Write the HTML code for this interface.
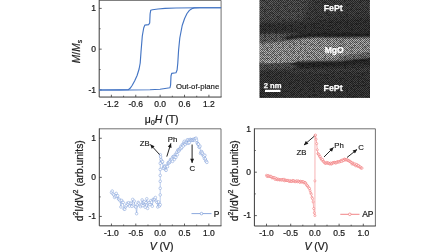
<!DOCTYPE html><html><head><meta charset="utf-8"><title>Figure</title>
<style>html,body{margin:0;padding:0;background:#fff;}body{width:448px;height:252px;overflow:hidden;}svg{display:block;}text{font-family:"Liberation Sans", Arial, sans-serif;fill:#1a1a1a;stroke:#1a1a1a;stroke-width:0.22px;}text.w{fill:#fff;stroke:#fff;stroke-width:0.25px;font-weight:bold;}</style></head><body>
<svg width="448" height="252" viewBox="0 0 448 252">
<defs>
<filter id="noise" x="0" y="0" width="100%" height="100%" color-interpolation-filters="sRGB">
<feTurbulence type="fractalNoise" baseFrequency="0.45 0.55" numOctaves="2" seed="11" result="n"/>
<feColorMatrix in="n" type="matrix" values="0 0 0 0 0  0 0 0 0 0  0 0 0 0 0  3 0 0 0 -1.35"/>
</filter>
<filter id="b1" x="-20%" y="-20%" width="140%" height="140%"><feGaussianBlur stdDeviation="0.8"/></filter>
<filter id="b2" x="-20%" y="-50%" width="140%" height="200%"><feGaussianBlur stdDeviation="2"/></filter>
<pattern id="lat" width="2" height="2" patternUnits="userSpaceOnUse"><rect x="0" y="0" width="1" height="1" fill="#000" fill-opacity="0.5"/><rect x="1" y="1" width="1" height="1" fill="#000" fill-opacity="0.5"/></pattern>
<clipPath id="temclip"><rect x="259.7" y="0" width="110.2" height="97.7"/></clipPath>
<marker id="ah" viewBox="0 0 10 10" refX="9.5" refY="5" markerWidth="5.4" markerHeight="4.3" orient="auto" markerUnits="userSpaceOnUse"><path d="M0,0.5 L10,5 L0,9.5 z" fill="#1a1a1a"/></marker>
</defs>
<path d="M99.2,0.4 H221.1 V97.05" fill="none" stroke="#4c4c4c" stroke-width="0.8"/>
<path d="M99.2,0.0 V97.05 H221.5" fill="none" stroke="#3a3a3a" stroke-width="1"/>
<line x1="111.39" y1="97.05" x2="111.39" y2="94.75" stroke="#3a3a3a" stroke-width="0.8"/>
<text x="111.39" y="107.2" font-size="8.5" text-anchor="middle">-1.2</text>
<line x1="135.77" y1="97.05" x2="135.77" y2="94.75" stroke="#3a3a3a" stroke-width="0.8"/>
<text x="135.77" y="107.2" font-size="8.5" text-anchor="middle">-0.6</text>
<line x1="160.15" y1="97.05" x2="160.15" y2="94.75" stroke="#3a3a3a" stroke-width="0.8"/>
<text x="160.15" y="107.2" font-size="8.5" text-anchor="middle">0.0</text>
<line x1="184.53" y1="97.05" x2="184.53" y2="94.75" stroke="#3a3a3a" stroke-width="0.8"/>
<text x="184.53" y="107.2" font-size="8.5" text-anchor="middle">0.6</text>
<line x1="208.91" y1="97.05" x2="208.91" y2="94.75" stroke="#3a3a3a" stroke-width="0.8"/>
<text x="208.91" y="107.2" font-size="8.5" text-anchor="middle">1.2</text>
<line x1="123.58" y1="97.05" x2="123.58" y2="95.75" stroke="#3a3a3a" stroke-width="0.8"/>
<line x1="147.96" y1="97.05" x2="147.96" y2="95.75" stroke="#3a3a3a" stroke-width="0.8"/>
<line x1="172.34" y1="97.05" x2="172.34" y2="95.75" stroke="#3a3a3a" stroke-width="0.8"/>
<line x1="196.72" y1="97.05" x2="196.72" y2="95.75" stroke="#3a3a3a" stroke-width="0.8"/>
<line x1="101.7" y1="8.40" x2="99.2" y2="8.40" stroke="#3a3a3a" stroke-width="0.8"/>
<text x="96" y="11.15" font-size="8.5" text-anchor="end">1</text>
<line x1="101.7" y1="49.15" x2="99.2" y2="49.15" stroke="#3a3a3a" stroke-width="0.8"/>
<text x="96" y="51.90" font-size="8.5" text-anchor="end">0</text>
<line x1="101.7" y1="89.90" x2="99.2" y2="89.90" stroke="#3a3a3a" stroke-width="0.8"/>
<text x="96" y="92.65" font-size="8.5" text-anchor="end">-1</text>
<line x1="100.60000000000001" y1="28.77" x2="99.2" y2="28.77" stroke="#3a3a3a" stroke-width="0.8"/>
<line x1="100.60000000000001" y1="69.53" x2="99.2" y2="69.53" stroke="#3a3a3a" stroke-width="0.8"/>
<text transform="translate(79.9,51.5) rotate(-90)" font-size="10.2" text-anchor="middle"><tspan font-style="italic">M</tspan>/<tspan font-style="italic">M</tspan><tspan font-size="6.8" dy="1.8">s</tspan></text>
<text x="161.7" y="123" font-size="10.5" text-anchor="middle">μ<tspan font-size="6.8" dy="1.8">0</tspan><tspan dy="-1.8" font-style="italic">H</tspan> (T)</text>
<text x="197.6" y="89.2" font-size="7.8" text-anchor="middle" style="stroke-width:0.16px">Out-of-plane</text>
<path d="M221.1,7.7 L200,7.8 L176,7.95 L165,8.4 L158,9.0 L152.5,9.7 L150.7,10.3 L150.1,14 L149.7,23 L148.6,24.6 L144.8,25.1 L143.7,28 L142.3,36 L141.0,52 L140.2,63 L139.1,69 L137.1,75.5 L134.6,81 L132.1,85.5 L130.1,88.3 L128.3,89.7 L120,89.9 L99.3,90" fill="none" stroke="#4475c4" stroke-width="1.15" stroke-linejoin="round"/>
<path d="M99.3,90 L130,90 L150,89.8 L160,89.2 L165,88.5 L170,87.7 L170.6,85 L171.0,76 L171.7,73.4 L176,72.7 L177.1,70 L177.8,63 L178.6,50 L179.8,38 L182.2,25.5 L184.6,18.5 L187,13.5 L189.4,10.4 L191.8,8.7 L194.2,7.9 L200,7.7 L221.1,7.7" fill="none" stroke="#4475c4" stroke-width="1.15" stroke-linejoin="round"/>
<g clip-path="url(#temclip)">
<rect x="255" y="-5" width="120" height="110" fill="#4d4d4d"/>
<path d="M255,-8 H312 L302,22 L255,23 z" fill="#606060" filter="url(#b2)"/>
<path d="M255,23 L300,22 L375,16 V38 L320,36 L255,34 z" fill="#414141" filter="url(#b2)"/>
<path d="M255,34 L285,33.5 L303,34.5 L290,40.5 L275,42.5 L255,44 z" fill="#757575" filter="url(#b1)"/>
<path d="M283,37 L302,34 L314,33.2 L375,32.8 V38 L314,38.2 L302,39 L288,41 z" fill="#2e2e2e" filter="url(#b1)"/>
<path d="M255,62 L300,61 L340,60 L375,55.5 V105 H255 z" fill="#444444"/>
<path d="M255,63 L288,62.5 L300,66 L290,69.5 L255,70.5 z" fill="#636363" filter="url(#b1)"/>
<path d="M288,61.5 L340,60.5 L375,56.5 V62 L340,66 L300,67.5 z" fill="#303030" filter="url(#b1)"/>
<path d="M290,70.2 L375,68.3 V71.5 L290,73.5 z" fill="#515151" filter="url(#b1)"/>
<path d="M255,43.5 L260,43.1 L277,41.9 L290,40 L302,38.2 L314,37.5 L340,37.8 L375,37.1 V56.3 L352,58.7 L339,60.6 L314,61.1 L296,61.6 L280,62.8 L255,63.2 z" fill="#b9b9b9" filter="url(#b1)"/>
<path d="M338,56.5 L375,51.5 V56.6 L352,59 L339,60.9 z" fill="#868686" filter="url(#b1)"/>
<path d="M263,62.6 L281,62.5 L296,61.3" fill="none" stroke="#f4f4f4" stroke-width="1.6" filter="url(#b1)"/>
<rect x="259" y="0" width="112" height="98" fill="url(#lat)"/>
<rect x="259" y="0" width="112" height="98" filter="url(#noise)" opacity="0.4"/>
</g>
<text class="w" x="333.2" y="10.8" font-size="8.8" text-anchor="middle">FePt</text>
<text class="w" x="334.2" y="53.4" font-size="8.6" text-anchor="middle">MgO</text>
<text class="w" x="333.1" y="90.5" font-size="8.8" text-anchor="middle">FePt</text>
<text class="w" x="272.6" y="87.7" font-size="7.6" text-anchor="middle">2 nm</text>
<rect x="265" y="89.8" width="15.5" height="2.2" fill="#fff"/>
<path d="M99.3,128.8 H221 V225.85" fill="none" stroke="#4c4c4c" stroke-width="0.8"/>
<path d="M99.3,128.4 V225.85 H221.4" fill="none" stroke="#3a3a3a" stroke-width="1"/>
<line x1="111.45" y1="225.85" x2="111.45" y2="223.54999999999998" stroke="#3a3a3a" stroke-width="0.8"/>
<text x="111.45" y="235.95" font-size="8.5" text-anchor="middle">-1.0</text>
<line x1="135.80" y1="225.85" x2="135.80" y2="223.54999999999998" stroke="#3a3a3a" stroke-width="0.8"/>
<text x="135.80" y="235.95" font-size="8.5" text-anchor="middle">-0.5</text>
<line x1="160.15" y1="225.85" x2="160.15" y2="223.54999999999998" stroke="#3a3a3a" stroke-width="0.8"/>
<text x="160.15" y="235.95" font-size="8.5" text-anchor="middle">0.0</text>
<line x1="184.50" y1="225.85" x2="184.50" y2="223.54999999999998" stroke="#3a3a3a" stroke-width="0.8"/>
<text x="184.50" y="235.95" font-size="8.5" text-anchor="middle">0.5</text>
<line x1="208.85" y1="225.85" x2="208.85" y2="223.54999999999998" stroke="#3a3a3a" stroke-width="0.8"/>
<text x="208.85" y="235.95" font-size="8.5" text-anchor="middle">1.0</text>
<line x1="123.62" y1="225.85" x2="123.62" y2="224.54999999999998" stroke="#3a3a3a" stroke-width="0.8"/>
<line x1="147.97" y1="225.85" x2="147.97" y2="224.54999999999998" stroke="#3a3a3a" stroke-width="0.8"/>
<line x1="172.33" y1="225.85" x2="172.33" y2="224.54999999999998" stroke="#3a3a3a" stroke-width="0.8"/>
<line x1="196.68" y1="225.85" x2="196.68" y2="224.54999999999998" stroke="#3a3a3a" stroke-width="0.8"/>
<line x1="101.8" y1="138.25" x2="99.3" y2="138.25" stroke="#3a3a3a" stroke-width="0.8"/>
<text x="96.00" y="141.00" font-size="8.5" text-anchor="end">1</text>
<line x1="101.8" y1="177.35" x2="99.3" y2="177.35" stroke="#3a3a3a" stroke-width="0.8"/>
<text x="96.00" y="180.10" font-size="8.5" text-anchor="end">0</text>
<line x1="101.8" y1="216.45" x2="99.3" y2="216.45" stroke="#3a3a3a" stroke-width="0.8"/>
<text x="96.00" y="219.20" font-size="8.5" text-anchor="end">-1</text>
<line x1="100.7" y1="157.80" x2="99.3" y2="157.80" stroke="#3a3a3a" stroke-width="0.8"/>
<line x1="100.7" y1="196.90" x2="99.3" y2="196.90" stroke="#3a3a3a" stroke-width="0.8"/>
<text transform="translate(82.5,180.8) rotate(-90)" font-size="10.3" text-anchor="middle">d<tspan font-size="7" dy="-4.3">2</tspan><tspan dy="4.3">I/dV</tspan><tspan font-size="7" dy="-4.3">2</tspan><tspan dy="4.3"> (arb.units)</tspan></text>
<text x="161.65" y="249.85" font-size="10.5" text-anchor="middle"><tspan font-style="italic">V</tspan> (V)</text>
<path d="M111.5,192.6 L112.2,191.0 L113.0,193.9 L113.8,194.9 L114.6,197.4 L115.4,196.2 L116.2,193.4 L116.9,196.4 L117.7,195.7 L118.5,199.0 L119.3,199.4 L120.1,200.8 L120.9,207.0 L121.7,200.4 L122.4,202.2 L123.2,202.5 L124.0,209.0 L124.8,209.2 L125.6,206.7 L126.4,205.5 L127.2,203.3 L127.9,204.3 L128.7,202.7 L129.5,206.1 L130.3,203.4 L131.1,203.2 L131.9,206.3 L132.7,199.4 L133.4,202.9 L134.2,201.1 L135.0,206.5 L135.8,206.9 L136.6,213.7 L137.4,204.7 L138.2,202.4 L138.9,203.4 L139.7,205.2 L140.5,206.6 L141.3,205.1 L142.1,199.9 L142.9,205.7 L143.7,202.4 L144.4,201.7 L145.2,207.2 L146.0,202.6 L146.8,198.8 L147.6,208.4 L148.4,203.4 L149.2,202.6 L149.9,204.6 L150.7,200.7 L151.5,202.2 L152.3,206.2 L153.1,199.4 L153.9,199.8 L154.7,198.9 L155.4,197.5 L156.2,201.1 L157.0,202.4 L157.8,207.0 L158.6,201.9 L159.4,206.0 L160.2,204.7 L160.3,154.7 L160.6,156.9 L161.1,159.6 L161.6,161.1 L162.1,162.3 L162.6,161.7 L163.1,168.1 L163.6,168.3 L164.1,166.8 L164.6,165.9 L165.1,166.7 L165.6,169.8 L166.1,170.3 L166.5,165.7 L167.0,166.6 L167.5,166.6 L168.0,163.1 L168.5,162.3 L169.0,163.1 L169.5,162.4 L170.0,161.6 L170.5,159.4 L171.0,160.2 L171.5,159.7 L172.0,159.1 L172.5,161.4 L172.9,156.7 L173.4,156.6 L173.9,156.5 L174.4,159.4 L174.9,156.9 L175.4,154.2 L175.9,157.3 L176.4,154.3 L176.9,152.0 L177.4,154.7 L177.9,149.9 L178.4,150.8 L178.9,151.1 L179.3,149.7 L179.8,148.6 L180.3,148.7 L180.8,146.5 L181.3,148.4 L181.8,147.4 L182.3,144.6 L182.8,145.4 L183.3,146.0 L183.8,142.7 L184.3,141.3 L184.8,143.4 L185.2,144.5 L185.7,142.6 L186.2,142.4 L186.7,142.5 L187.2,139.9 L187.7,143.2 L188.2,139.8 L188.7,143.2 L189.2,142.4 L189.7,140.2 L190.2,139.4 L190.7,139.6 L191.2,140.2 L191.6,140.4 L192.1,140.2 L192.6,139.5 L193.1,140.4 L193.6,139.7 L194.1,139.1 L194.6,139.8 L195.1,138.6 L195.6,138.7 L196.1,138.2 L196.6,140.3 L197.1,142.6 L197.6,143.7 L198.0,144.3 L198.5,144.2 L199.0,147.1 L199.5,147.2 L200.0,146.1 L200.5,153.4 L201.0,152.4 L201.5,151.5 L202.0,152.3 L202.5,153.5 L203.0,155.5 L203.5,155.0 L203.9,156.6 L204.4,158.6 L204.9,155.3 L205.4,159.0 L205.9,161.2 L206.4,161.4 L206.9,162.4" fill="none" stroke="#6e92d4" stroke-width="0.45" stroke-linejoin="round"/>
<g fill="#fff" stroke="#6e92d4" stroke-width="0.45">
<circle cx="111.5" cy="192.6" r="1.3"/>
<circle cx="112.2" cy="191.0" r="1.3"/>
<circle cx="113.0" cy="193.9" r="1.3"/>
<circle cx="113.8" cy="194.9" r="1.3"/>
<circle cx="114.6" cy="197.4" r="1.3"/>
<circle cx="115.4" cy="196.2" r="1.3"/>
<circle cx="116.2" cy="193.4" r="1.3"/>
<circle cx="116.9" cy="196.4" r="1.3"/>
<circle cx="117.7" cy="195.7" r="1.3"/>
<circle cx="118.5" cy="199.0" r="1.3"/>
<circle cx="119.3" cy="199.4" r="1.3"/>
<circle cx="120.1" cy="200.8" r="1.3"/>
<circle cx="120.9" cy="207.0" r="1.3"/>
<circle cx="121.7" cy="200.4" r="1.3"/>
<circle cx="122.4" cy="202.2" r="1.3"/>
<circle cx="123.2" cy="202.5" r="1.3"/>
<circle cx="124.0" cy="209.0" r="1.3"/>
<circle cx="124.8" cy="209.2" r="1.3"/>
<circle cx="125.6" cy="206.7" r="1.3"/>
<circle cx="126.4" cy="205.5" r="1.3"/>
<circle cx="127.2" cy="203.3" r="1.3"/>
<circle cx="127.9" cy="204.3" r="1.3"/>
<circle cx="128.7" cy="202.7" r="1.3"/>
<circle cx="129.5" cy="206.1" r="1.3"/>
<circle cx="130.3" cy="203.4" r="1.3"/>
<circle cx="131.1" cy="203.2" r="1.3"/>
<circle cx="131.9" cy="206.3" r="1.3"/>
<circle cx="132.7" cy="199.4" r="1.3"/>
<circle cx="133.4" cy="202.9" r="1.3"/>
<circle cx="134.2" cy="201.1" r="1.3"/>
<circle cx="135.0" cy="206.5" r="1.3"/>
<circle cx="135.8" cy="206.9" r="1.3"/>
<circle cx="136.6" cy="213.7" r="1.3"/>
<circle cx="137.4" cy="204.7" r="1.3"/>
<circle cx="138.2" cy="202.4" r="1.3"/>
<circle cx="138.9" cy="203.4" r="1.3"/>
<circle cx="139.7" cy="205.2" r="1.3"/>
<circle cx="140.5" cy="206.6" r="1.3"/>
<circle cx="141.3" cy="205.1" r="1.3"/>
<circle cx="142.1" cy="199.9" r="1.3"/>
<circle cx="142.9" cy="205.7" r="1.3"/>
<circle cx="143.7" cy="202.4" r="1.3"/>
<circle cx="144.4" cy="201.7" r="1.3"/>
<circle cx="145.2" cy="207.2" r="1.3"/>
<circle cx="146.0" cy="202.6" r="1.3"/>
<circle cx="146.8" cy="198.8" r="1.3"/>
<circle cx="147.6" cy="208.4" r="1.3"/>
<circle cx="148.4" cy="203.4" r="1.3"/>
<circle cx="149.2" cy="202.6" r="1.3"/>
<circle cx="149.9" cy="204.6" r="1.3"/>
<circle cx="150.7" cy="200.7" r="1.3"/>
<circle cx="151.5" cy="202.2" r="1.3"/>
<circle cx="152.3" cy="206.2" r="1.3"/>
<circle cx="153.1" cy="199.4" r="1.3"/>
<circle cx="153.9" cy="199.8" r="1.3"/>
<circle cx="154.7" cy="198.9" r="1.3"/>
<circle cx="155.4" cy="197.5" r="1.3"/>
<circle cx="156.2" cy="201.1" r="1.3"/>
<circle cx="157.0" cy="202.4" r="1.3"/>
<circle cx="157.8" cy="207.0" r="1.3"/>
<circle cx="158.6" cy="201.9" r="1.3"/>
<circle cx="159.4" cy="206.0" r="1.3"/>
<circle cx="160.2" cy="204.7" r="1.3"/>
<circle cx="160.3" cy="154.7" r="1.3"/>
<circle cx="160.6" cy="156.9" r="1.3"/>
<circle cx="161.1" cy="159.6" r="1.3"/>
<circle cx="161.6" cy="161.1" r="1.3"/>
<circle cx="162.1" cy="162.3" r="1.3"/>
<circle cx="162.6" cy="161.7" r="1.3"/>
<circle cx="163.1" cy="168.1" r="1.3"/>
<circle cx="163.6" cy="168.3" r="1.3"/>
<circle cx="164.1" cy="166.8" r="1.3"/>
<circle cx="164.6" cy="165.9" r="1.3"/>
<circle cx="165.1" cy="166.7" r="1.3"/>
<circle cx="165.6" cy="169.8" r="1.3"/>
<circle cx="166.1" cy="170.3" r="1.3"/>
<circle cx="166.5" cy="165.7" r="1.3"/>
<circle cx="167.0" cy="166.6" r="1.3"/>
<circle cx="167.5" cy="166.6" r="1.3"/>
<circle cx="168.0" cy="163.1" r="1.3"/>
<circle cx="168.5" cy="162.3" r="1.3"/>
<circle cx="169.0" cy="163.1" r="1.3"/>
<circle cx="169.5" cy="162.4" r="1.3"/>
<circle cx="170.0" cy="161.6" r="1.3"/>
<circle cx="170.5" cy="159.4" r="1.3"/>
<circle cx="171.0" cy="160.2" r="1.3"/>
<circle cx="171.5" cy="159.7" r="1.3"/>
<circle cx="172.0" cy="159.1" r="1.3"/>
<circle cx="172.5" cy="161.4" r="1.3"/>
<circle cx="172.9" cy="156.7" r="1.3"/>
<circle cx="173.4" cy="156.6" r="1.3"/>
<circle cx="173.9" cy="156.5" r="1.3"/>
<circle cx="174.4" cy="159.4" r="1.3"/>
<circle cx="174.9" cy="156.9" r="1.3"/>
<circle cx="175.4" cy="154.2" r="1.3"/>
<circle cx="175.9" cy="157.3" r="1.3"/>
<circle cx="176.4" cy="154.3" r="1.3"/>
<circle cx="176.9" cy="152.0" r="1.3"/>
<circle cx="177.4" cy="154.7" r="1.3"/>
<circle cx="177.9" cy="149.9" r="1.3"/>
<circle cx="178.4" cy="150.8" r="1.3"/>
<circle cx="178.9" cy="151.1" r="1.3"/>
<circle cx="179.3" cy="149.7" r="1.3"/>
<circle cx="179.8" cy="148.6" r="1.3"/>
<circle cx="180.3" cy="148.7" r="1.3"/>
<circle cx="180.8" cy="146.5" r="1.3"/>
<circle cx="181.3" cy="148.4" r="1.3"/>
<circle cx="181.8" cy="147.4" r="1.3"/>
<circle cx="182.3" cy="144.6" r="1.3"/>
<circle cx="182.8" cy="145.4" r="1.3"/>
<circle cx="183.3" cy="146.0" r="1.3"/>
<circle cx="183.8" cy="142.7" r="1.3"/>
<circle cx="184.3" cy="141.3" r="1.3"/>
<circle cx="184.8" cy="143.4" r="1.3"/>
<circle cx="185.2" cy="144.5" r="1.3"/>
<circle cx="185.7" cy="142.6" r="1.3"/>
<circle cx="186.2" cy="142.4" r="1.3"/>
<circle cx="186.7" cy="142.5" r="1.3"/>
<circle cx="187.2" cy="139.9" r="1.3"/>
<circle cx="187.7" cy="143.2" r="1.3"/>
<circle cx="188.2" cy="139.8" r="1.3"/>
<circle cx="188.7" cy="143.2" r="1.3"/>
<circle cx="189.2" cy="142.4" r="1.3"/>
<circle cx="189.7" cy="140.2" r="1.3"/>
<circle cx="190.2" cy="139.4" r="1.3"/>
<circle cx="190.7" cy="139.6" r="1.3"/>
<circle cx="191.2" cy="140.2" r="1.3"/>
<circle cx="191.6" cy="140.4" r="1.3"/>
<circle cx="192.1" cy="140.2" r="1.3"/>
<circle cx="192.6" cy="139.5" r="1.3"/>
<circle cx="193.1" cy="140.4" r="1.3"/>
<circle cx="193.6" cy="139.7" r="1.3"/>
<circle cx="194.1" cy="139.1" r="1.3"/>
<circle cx="194.6" cy="139.8" r="1.3"/>
<circle cx="195.1" cy="138.6" r="1.3"/>
<circle cx="195.6" cy="138.7" r="1.3"/>
<circle cx="196.1" cy="138.2" r="1.3"/>
<circle cx="196.6" cy="140.3" r="1.3"/>
<circle cx="197.1" cy="142.6" r="1.3"/>
<circle cx="197.6" cy="143.7" r="1.3"/>
<circle cx="198.0" cy="144.3" r="1.3"/>
<circle cx="198.5" cy="144.2" r="1.3"/>
<circle cx="199.0" cy="147.1" r="1.3"/>
<circle cx="199.5" cy="147.2" r="1.3"/>
<circle cx="200.0" cy="146.1" r="1.3"/>
<circle cx="200.5" cy="153.4" r="1.3"/>
<circle cx="201.0" cy="152.4" r="1.3"/>
<circle cx="201.5" cy="151.5" r="1.3"/>
<circle cx="202.0" cy="152.3" r="1.3"/>
<circle cx="202.5" cy="153.5" r="1.3"/>
<circle cx="203.0" cy="155.5" r="1.3"/>
<circle cx="203.5" cy="155.0" r="1.3"/>
<circle cx="203.9" cy="156.6" r="1.3"/>
<circle cx="204.4" cy="158.6" r="1.3"/>
<circle cx="204.9" cy="155.3" r="1.3"/>
<circle cx="205.4" cy="159.0" r="1.3"/>
<circle cx="205.9" cy="161.2" r="1.3"/>
<circle cx="206.4" cy="161.4" r="1.3"/>
<circle cx="206.9" cy="162.4" r="1.3"/>
<circle cx="160.2" cy="194.9" r="1.3"/>
<circle cx="160.2" cy="188.3" r="1.3"/>
<circle cx="160.2" cy="181.3" r="1.3"/>
<circle cx="160.2" cy="175.4" r="1.3"/>
<circle cx="160.2" cy="169.5" r="1.3"/>
<circle cx="160.2" cy="163.3" r="1.3"/>
</g>
<line x1="159.6" y1="154.6" x2="150.4" y2="144.5" stroke="#1a1a1a" stroke-width="0.95" marker-end="url(#ah)"/>
<text x="144.7" y="145.9" font-size="7.8" text-anchor="middle" style="stroke-width:0.16px">ZB</text>
<line x1="166.8" y1="156.6" x2="170.9" y2="143.4" stroke="#1a1a1a" stroke-width="0.95" marker-end="url(#ah)"/>
<text x="172.5" y="141.5" font-size="7.8" text-anchor="middle" style="stroke-width:0.16px">Ph</text>
<line x1="192.1" y1="144.5" x2="192.1" y2="162.9" stroke="#1a1a1a" stroke-width="0.95" marker-end="url(#ah)"/>
<text x="192.4" y="171.2" font-size="7.8" text-anchor="middle" style="stroke-width:0.16px">C</text>
<line x1="191.5" y1="213.6" x2="211.5" y2="213.6" stroke="#6e92d4" stroke-width="0.8"/><circle cx="201.5" cy="213.6" r="1.3" fill="#fff" stroke="#6e92d4" stroke-width="0.6"/>
<text x="216.7" y="216.6" font-size="8.5" text-anchor="middle">P</text>
<path d="M254.4,128.8 H375.4 V226" fill="none" stroke="#4c4c4c" stroke-width="0.8"/>
<path d="M254.4,128.4 V226 H375.79999999999995" fill="none" stroke="#3a3a3a" stroke-width="1"/>
<line x1="266.50" y1="226" x2="266.50" y2="223.7" stroke="#3a3a3a" stroke-width="0.8"/>
<text x="266.50" y="236.10" font-size="8.5" text-anchor="middle">-1.0</text>
<line x1="290.70" y1="226" x2="290.70" y2="223.7" stroke="#3a3a3a" stroke-width="0.8"/>
<text x="290.70" y="236.10" font-size="8.5" text-anchor="middle">-0.5</text>
<line x1="314.90" y1="226" x2="314.90" y2="223.7" stroke="#3a3a3a" stroke-width="0.8"/>
<text x="314.90" y="236.10" font-size="8.5" text-anchor="middle">0.0</text>
<line x1="339.10" y1="226" x2="339.10" y2="223.7" stroke="#3a3a3a" stroke-width="0.8"/>
<text x="339.10" y="236.10" font-size="8.5" text-anchor="middle">0.5</text>
<line x1="363.30" y1="226" x2="363.30" y2="223.7" stroke="#3a3a3a" stroke-width="0.8"/>
<text x="363.30" y="236.10" font-size="8.5" text-anchor="middle">1.0</text>
<line x1="278.60" y1="226" x2="278.60" y2="224.7" stroke="#3a3a3a" stroke-width="0.8"/>
<line x1="302.80" y1="226" x2="302.80" y2="224.7" stroke="#3a3a3a" stroke-width="0.8"/>
<line x1="327.00" y1="226" x2="327.00" y2="224.7" stroke="#3a3a3a" stroke-width="0.8"/>
<line x1="351.20" y1="226" x2="351.20" y2="224.7" stroke="#3a3a3a" stroke-width="0.8"/>
<text x="251.10" y="131.55" font-size="8.5" text-anchor="end">1</text>
<line x1="256.9" y1="172.20" x2="254.4" y2="172.20" stroke="#3a3a3a" stroke-width="0.8"/>
<text x="251.10" y="174.95" font-size="8.5" text-anchor="end">0</text>
<line x1="256.9" y1="215.60" x2="254.4" y2="215.60" stroke="#3a3a3a" stroke-width="0.8"/>
<text x="251.10" y="218.35" font-size="8.5" text-anchor="end">-1</text>
<line x1="255.8" y1="150.50" x2="254.4" y2="150.50" stroke="#3a3a3a" stroke-width="0.8"/>
<line x1="255.8" y1="193.90" x2="254.4" y2="193.90" stroke="#3a3a3a" stroke-width="0.8"/>
<text transform="translate(237.5,180.8) rotate(-90)" font-size="10.3" text-anchor="middle">d<tspan font-size="7" dy="-4.3">2</tspan><tspan dy="4.3">I/dV</tspan><tspan font-size="7" dy="-4.3">2</tspan><tspan dy="4.3"> (arb.units)</tspan></text>
<text x="316.40" y="250.00" font-size="10.5" text-anchor="middle"><tspan font-style="italic">V</tspan> (V)</text>
<path d="M266.5,175.3 L267.1,176.5 L267.7,175.9 L268.3,175.5 L268.9,176.6 L269.5,176.4 L270.1,176.2 L270.7,176.4 L271.3,176.4 L271.9,177.9 L272.5,177.6 L273.2,177.8 L273.8,177.6 L274.4,177.7 L275.0,179.4 L275.6,178.1 L276.2,179.3 L276.8,178.7 L277.4,179.8 L278.0,179.3 L278.6,179.2 L279.2,179.9 L279.8,179.8 L280.4,179.6 L281.0,179.9 L281.6,180.1 L282.2,179.5 L282.8,179.7 L283.4,180.3 L284.0,179.2 L284.6,180.8 L285.3,180.0 L285.9,180.5 L286.5,180.4 L287.1,180.3 L287.7,180.5 L288.3,180.4 L288.9,181.3 L289.5,181.4 L290.1,180.6 L290.7,181.3 L291.3,181.3 L291.9,181.6 L292.5,180.5 L293.1,180.8 L293.7,180.6 L294.3,181.6 L294.9,181.2 L295.5,181.7 L296.1,181.1 L296.8,180.8 L297.4,181.8 L298.0,180.9 L298.6,181.2 L299.2,181.7 L299.8,182.4 L300.4,181.2 L301.0,181.8 L301.6,182.1 L302.2,181.7 L302.8,181.8 L303.4,181.7 L304.0,183.0 L304.6,182.5 L305.2,182.7 L305.8,183.1 L306.4,184.6 L307.0,185.6 L307.6,185.8 L308.2,187.0 L308.8,187.9 L309.5,188.5 L310.1,190.7 L310.7,193.0 L311.3,194.2 L311.9,197.3 L312.5,198.7 L313.1,201.9 L313.7,208.5 L314.3,212.9 L314.9,215.6 L315.0,135.4 L315.5,135.0 L316.1,139.2 L316.7,143.6 L317.3,149.8 L317.8,153.6 L318.4,154.1 L319.0,154.8 L319.6,156.6 L320.2,156.6 L320.8,158.6 L321.4,158.9 L322.0,160.1 L322.6,159.4 L323.2,161.3 L323.7,161.5 L324.3,162.4 L324.9,163.1 L325.5,163.4 L326.1,163.1 L326.7,162.4 L327.3,163.2 L327.9,163.0 L328.5,162.9 L329.1,163.5 L329.6,164.0 L330.2,163.7 L330.8,163.0 L331.4,164.2 L332.0,163.6 L332.6,162.7 L333.2,162.6 L333.8,162.9 L334.4,162.3 L335.0,162.5 L335.5,163.0 L336.1,163.0 L336.7,162.4 L337.3,161.6 L337.9,162.0 L338.5,162.0 L339.1,161.7 L339.7,161.9 L340.3,161.0 L340.9,161.2 L341.4,160.3 L342.0,161.4 L342.6,159.9 L343.2,160.1 L343.8,160.5 L344.4,159.0 L345.0,159.3 L345.6,160.0 L346.2,159.7 L346.8,159.6 L347.3,160.3 L347.9,160.1 L348.5,160.5 L349.1,161.0 L349.7,161.5 L350.3,161.4 L350.9,162.2 L351.5,162.7 L352.1,164.2 L352.7,163.1 L353.2,163.2 L353.8,164.2 L354.4,164.6 L355.0,163.8 L355.6,165.8 L356.2,165.1 L356.8,164.4 L357.4,166.3 L358.0,165.8 L358.6,165.5 L359.1,166.8 L359.7,166.8 L360.3,166.9 L360.9,168.1 L361.5,168.0 L362.1,168.1" fill="none" stroke="#ee6668" stroke-width="0.5" stroke-linejoin="round"/>
<g fill="#fff" stroke="#ee6668" stroke-width="0.5">
<circle cx="266.5" cy="175.3" r="1.05"/>
<circle cx="267.1" cy="176.5" r="1.05"/>
<circle cx="267.7" cy="175.9" r="1.05"/>
<circle cx="268.3" cy="175.5" r="1.05"/>
<circle cx="268.9" cy="176.6" r="1.05"/>
<circle cx="269.5" cy="176.4" r="1.05"/>
<circle cx="270.1" cy="176.2" r="1.05"/>
<circle cx="270.7" cy="176.4" r="1.05"/>
<circle cx="271.3" cy="176.4" r="1.05"/>
<circle cx="271.9" cy="177.9" r="1.05"/>
<circle cx="272.5" cy="177.6" r="1.05"/>
<circle cx="273.2" cy="177.8" r="1.05"/>
<circle cx="273.8" cy="177.6" r="1.05"/>
<circle cx="274.4" cy="177.7" r="1.05"/>
<circle cx="275.0" cy="179.4" r="1.05"/>
<circle cx="275.6" cy="178.1" r="1.05"/>
<circle cx="276.2" cy="179.3" r="1.05"/>
<circle cx="276.8" cy="178.7" r="1.05"/>
<circle cx="277.4" cy="179.8" r="1.05"/>
<circle cx="278.0" cy="179.3" r="1.05"/>
<circle cx="278.6" cy="179.2" r="1.05"/>
<circle cx="279.2" cy="179.9" r="1.05"/>
<circle cx="279.8" cy="179.8" r="1.05"/>
<circle cx="280.4" cy="179.6" r="1.05"/>
<circle cx="281.0" cy="179.9" r="1.05"/>
<circle cx="281.6" cy="180.1" r="1.05"/>
<circle cx="282.2" cy="179.5" r="1.05"/>
<circle cx="282.8" cy="179.7" r="1.05"/>
<circle cx="283.4" cy="180.3" r="1.05"/>
<circle cx="284.0" cy="179.2" r="1.05"/>
<circle cx="284.6" cy="180.8" r="1.05"/>
<circle cx="285.3" cy="180.0" r="1.05"/>
<circle cx="285.9" cy="180.5" r="1.05"/>
<circle cx="286.5" cy="180.4" r="1.05"/>
<circle cx="287.1" cy="180.3" r="1.05"/>
<circle cx="287.7" cy="180.5" r="1.05"/>
<circle cx="288.3" cy="180.4" r="1.05"/>
<circle cx="288.9" cy="181.3" r="1.05"/>
<circle cx="289.5" cy="181.4" r="1.05"/>
<circle cx="290.1" cy="180.6" r="1.05"/>
<circle cx="290.7" cy="181.3" r="1.05"/>
<circle cx="291.3" cy="181.3" r="1.05"/>
<circle cx="291.9" cy="181.6" r="1.05"/>
<circle cx="292.5" cy="180.5" r="1.05"/>
<circle cx="293.1" cy="180.8" r="1.05"/>
<circle cx="293.7" cy="180.6" r="1.05"/>
<circle cx="294.3" cy="181.6" r="1.05"/>
<circle cx="294.9" cy="181.2" r="1.05"/>
<circle cx="295.5" cy="181.7" r="1.05"/>
<circle cx="296.1" cy="181.1" r="1.05"/>
<circle cx="296.8" cy="180.8" r="1.05"/>
<circle cx="297.4" cy="181.8" r="1.05"/>
<circle cx="298.0" cy="180.9" r="1.05"/>
<circle cx="298.6" cy="181.2" r="1.05"/>
<circle cx="299.2" cy="181.7" r="1.05"/>
<circle cx="299.8" cy="182.4" r="1.05"/>
<circle cx="300.4" cy="181.2" r="1.05"/>
<circle cx="301.0" cy="181.8" r="1.05"/>
<circle cx="301.6" cy="182.1" r="1.05"/>
<circle cx="302.2" cy="181.7" r="1.05"/>
<circle cx="302.8" cy="181.8" r="1.05"/>
<circle cx="303.4" cy="181.7" r="1.05"/>
<circle cx="304.0" cy="183.0" r="1.05"/>
<circle cx="304.6" cy="182.5" r="1.05"/>
<circle cx="305.2" cy="182.7" r="1.05"/>
<circle cx="305.8" cy="183.1" r="1.05"/>
<circle cx="306.4" cy="184.6" r="1.05"/>
<circle cx="307.0" cy="185.6" r="1.05"/>
<circle cx="307.6" cy="185.8" r="1.05"/>
<circle cx="308.2" cy="187.0" r="1.05"/>
<circle cx="308.8" cy="187.9" r="1.05"/>
<circle cx="309.5" cy="188.5" r="1.05"/>
<circle cx="310.1" cy="190.7" r="1.05"/>
<circle cx="310.7" cy="193.0" r="1.05"/>
<circle cx="311.3" cy="194.2" r="1.05"/>
<circle cx="311.9" cy="197.3" r="1.05"/>
<circle cx="312.5" cy="198.7" r="1.05"/>
<circle cx="313.1" cy="201.9" r="1.05"/>
<circle cx="313.7" cy="208.5" r="1.05"/>
<circle cx="314.3" cy="212.9" r="1.05"/>
<circle cx="314.9" cy="215.6" r="1.05"/>
<circle cx="315.0" cy="135.4" r="1.05"/>
<circle cx="315.5" cy="135.0" r="1.05"/>
<circle cx="316.1" cy="139.2" r="1.05"/>
<circle cx="316.7" cy="143.6" r="1.05"/>
<circle cx="317.3" cy="149.8" r="1.05"/>
<circle cx="317.8" cy="153.6" r="1.05"/>
<circle cx="318.4" cy="154.1" r="1.05"/>
<circle cx="319.0" cy="154.8" r="1.05"/>
<circle cx="319.6" cy="156.6" r="1.05"/>
<circle cx="320.2" cy="156.6" r="1.05"/>
<circle cx="320.8" cy="158.6" r="1.05"/>
<circle cx="321.4" cy="158.9" r="1.05"/>
<circle cx="322.0" cy="160.1" r="1.05"/>
<circle cx="322.6" cy="159.4" r="1.05"/>
<circle cx="323.2" cy="161.3" r="1.05"/>
<circle cx="323.7" cy="161.5" r="1.05"/>
<circle cx="324.3" cy="162.4" r="1.05"/>
<circle cx="324.9" cy="163.1" r="1.05"/>
<circle cx="325.5" cy="163.4" r="1.05"/>
<circle cx="326.1" cy="163.1" r="1.05"/>
<circle cx="326.7" cy="162.4" r="1.05"/>
<circle cx="327.3" cy="163.2" r="1.05"/>
<circle cx="327.9" cy="163.0" r="1.05"/>
<circle cx="328.5" cy="162.9" r="1.05"/>
<circle cx="329.1" cy="163.5" r="1.05"/>
<circle cx="329.6" cy="164.0" r="1.05"/>
<circle cx="330.2" cy="163.7" r="1.05"/>
<circle cx="330.8" cy="163.0" r="1.05"/>
<circle cx="331.4" cy="164.2" r="1.05"/>
<circle cx="332.0" cy="163.6" r="1.05"/>
<circle cx="332.6" cy="162.7" r="1.05"/>
<circle cx="333.2" cy="162.6" r="1.05"/>
<circle cx="333.8" cy="162.9" r="1.05"/>
<circle cx="334.4" cy="162.3" r="1.05"/>
<circle cx="335.0" cy="162.5" r="1.05"/>
<circle cx="335.5" cy="163.0" r="1.05"/>
<circle cx="336.1" cy="163.0" r="1.05"/>
<circle cx="336.7" cy="162.4" r="1.05"/>
<circle cx="337.3" cy="161.6" r="1.05"/>
<circle cx="337.9" cy="162.0" r="1.05"/>
<circle cx="338.5" cy="162.0" r="1.05"/>
<circle cx="339.1" cy="161.7" r="1.05"/>
<circle cx="339.7" cy="161.9" r="1.05"/>
<circle cx="340.3" cy="161.0" r="1.05"/>
<circle cx="340.9" cy="161.2" r="1.05"/>
<circle cx="341.4" cy="160.3" r="1.05"/>
<circle cx="342.0" cy="161.4" r="1.05"/>
<circle cx="342.6" cy="159.9" r="1.05"/>
<circle cx="343.2" cy="160.1" r="1.05"/>
<circle cx="343.8" cy="160.5" r="1.05"/>
<circle cx="344.4" cy="159.0" r="1.05"/>
<circle cx="345.0" cy="159.3" r="1.05"/>
<circle cx="345.6" cy="160.0" r="1.05"/>
<circle cx="346.2" cy="159.7" r="1.05"/>
<circle cx="346.8" cy="159.6" r="1.05"/>
<circle cx="347.3" cy="160.3" r="1.05"/>
<circle cx="347.9" cy="160.1" r="1.05"/>
<circle cx="348.5" cy="160.5" r="1.05"/>
<circle cx="349.1" cy="161.0" r="1.05"/>
<circle cx="349.7" cy="161.5" r="1.05"/>
<circle cx="350.3" cy="161.4" r="1.05"/>
<circle cx="350.9" cy="162.2" r="1.05"/>
<circle cx="351.5" cy="162.7" r="1.05"/>
<circle cx="352.1" cy="164.2" r="1.05"/>
<circle cx="352.7" cy="163.1" r="1.05"/>
<circle cx="353.2" cy="163.2" r="1.05"/>
<circle cx="353.8" cy="164.2" r="1.05"/>
<circle cx="354.4" cy="164.6" r="1.05"/>
<circle cx="355.0" cy="163.8" r="1.05"/>
<circle cx="355.6" cy="165.8" r="1.05"/>
<circle cx="356.2" cy="165.1" r="1.05"/>
<circle cx="356.8" cy="164.4" r="1.05"/>
<circle cx="357.4" cy="166.3" r="1.05"/>
<circle cx="358.0" cy="165.8" r="1.05"/>
<circle cx="358.6" cy="165.5" r="1.05"/>
<circle cx="359.1" cy="166.8" r="1.05"/>
<circle cx="359.7" cy="166.8" r="1.05"/>
<circle cx="360.3" cy="166.9" r="1.05"/>
<circle cx="360.9" cy="168.1" r="1.05"/>
<circle cx="361.5" cy="168.0" r="1.05"/>
<circle cx="362.1" cy="168.1" r="1.05"/>
<circle cx="314.9" cy="180.9" r="1.05"/>
</g>
<line x1="314.3" y1="136.2" x2="304" y2="145" stroke="#1a1a1a" stroke-width="0.95" marker-end="url(#ah)"/>
<text x="301.5" y="154.8" font-size="7.8" text-anchor="middle" style="stroke-width:0.16px">ZB</text>
<line x1="324" y1="157" x2="333.5" y2="147.5" stroke="#1a1a1a" stroke-width="0.95" marker-end="url(#ah)"/>
<text x="339" y="147.8" font-size="7.8" text-anchor="middle" style="stroke-width:0.16px">Ph</text>
<line x1="347" y1="157.5" x2="357" y2="149.5" stroke="#1a1a1a" stroke-width="0.95" marker-end="url(#ah)"/>
<text x="361" y="149.8" font-size="7.8" text-anchor="middle" style="stroke-width:0.16px">C</text>
<line x1="340.3" y1="214.3" x2="359.5" y2="214.3" stroke="#ee6668" stroke-width="0.8"/><circle cx="349.8" cy="214.3" r="1.3" fill="#fff" stroke="#ee6668" stroke-width="0.6"/>
<text x="367.8" y="217.3" font-size="8.5" text-anchor="middle">AP</text>
</svg></body></html>
